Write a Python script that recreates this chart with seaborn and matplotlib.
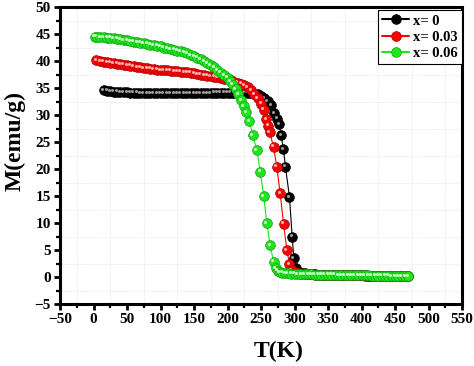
import numpy as np
import pandas as pd
import matplotlib
matplotlib.use("Agg")
import matplotlib.pyplot as plt
import matplotlib.transforms as mtransforms
from matplotlib.lines import Line2D
from matplotlib.ticker import MultipleLocator
import seaborn as sns

# ---------------- data ----------------
T_x0 = [15, 20, 25, 30, 35, 40, 45, 50, 55, 60,
        65, 70, 75, 80, 85, 90, 95, 100, 105, 110,
        115, 120, 125, 130, 135, 140, 145, 150, 155, 160,
        165, 170, 175, 180, 185, 190, 195, 200, 205, 210,
        215, 220, 225, 230, 235, 240, 245, 250, 255, 260,
        265, 270, 274, 277, 280, 283.5, 286.5, 292.5, 296.5, 299,
        302, 306, 311, 316, 321, 326, 331, 336, 341, 346,
        351, 356, 361, 366, 371, 376, 381, 386, 391, 396,
        401, 406, 411, 416, 421, 426, 431, 436, 441, 446,
        451, 456, 461, 466, 470]
M_x0 = [34.6, 34.5, 34.4, 34.3, 34.3, 34.2, 34.2, 34.2, 34.1, 34.1,
        34.1, 34.0, 34.0, 34.0, 34.0, 34.0, 34.0, 34.0, 34.0, 34.0,
        34.0, 34.0, 34.0, 34.0, 34.0, 34.0, 34.0, 34.0, 34.0, 34.0,
        34.0, 34.0, 34.0, 34.1, 34.1, 34.1, 34.1, 34.1, 34.1, 34.1,
        34.1, 34.1, 34.1, 34.1, 34.0, 33.9, 33.8, 33.5, 33.1, 32.6,
        31.8, 30.3, 29.3, 28.3, 26.3, 23.7, 20.4, 14.8, 7.5, 3.5,
        1.6, 1.0, 0.8, 0.7, 0.6, 0.55, 0.5, 0.45, 0.45, 0.4,
        0.4, 0.4, 0.35, 0.35, 0.35, 0.35, 0.3, 0.3, 0.3, 0.3,
        0.3, 0.3, 0.25, 0.25, 0.25, 0.25, 0.25, 0.25, 0.2, 0.2,
        0.2, 0.2, 0.2, 0.2, 0.2]

T_x003 = [4, 10, 15, 20, 25, 30, 35, 40, 45, 50,
          55, 60, 65, 70, 75, 80, 85, 90, 95, 100,
          105, 110, 115, 120, 125, 130, 135, 140, 145, 150,
          155, 160, 165, 170, 175, 180, 185, 190, 195, 200,
          205, 210, 215, 220, 225, 230, 235, 240, 245, 250,
          254, 257.7, 260.5, 263, 268.7, 273.6, 278.6, 283.6, 288.6, 292.5,
          296, 300, 305, 310, 315, 320, 325, 330, 335, 340,
          345, 350, 355, 360, 365, 370, 375, 380, 385, 390,
          395, 400, 405, 410, 415, 420, 425, 430, 435, 440,
          445, 450, 455, 460, 465, 470]
M_x003 = [40.2, 40.0, 39.9, 39.8, 39.7, 39.6, 39.5, 39.4, 39.3, 39.2,
          39.1, 39.0, 38.9, 38.8, 38.7, 38.65, 38.6, 38.5, 38.4, 38.35,
          38.3, 38.25, 38.2, 38.15, 38.1, 38.0, 37.95, 37.9, 37.8, 37.7,
          37.6, 37.5, 37.4, 37.3, 37.2, 37.1, 37.0, 36.9, 36.7, 36.6,
          36.4, 36.2, 36.0, 35.8, 35.5, 35.1, 34.6, 33.9, 33.1, 32.1,
          31.0, 29.2, 28.0, 26.8, 24.1, 20.4, 15.5, 9.9, 5.0, 2.4,
          1.3, 0.9, 0.7, 0.6, 0.55, 0.5, 0.5, 0.45, 0.45, 0.4,
          0.4, 0.4, 0.35, 0.35, 0.35, 0.35, 0.3, 0.3, 0.3, 0.3,
          0.3, 0.3, 0.25, 0.25, 0.25, 0.25, 0.25, 0.25, 0.2, 0.2,
          0.2, 0.2, 0.2, 0.2, 0.2, 0.2]

T_x006 = [1.5, 5, 10, 15, 20, 25, 30, 35, 40, 45,
          50, 55, 60, 65, 70, 75, 80, 85, 90, 95,
          100, 105, 110, 115, 120, 125, 130, 135, 140, 145,
          150, 155, 160, 165, 170, 175, 180, 185, 190, 195,
          200, 204, 208, 212, 216, 220, 224, 228, 232.8, 237.8,
          243.8, 248.8, 254, 258.7, 263.7, 268.7, 272, 275, 278, 282,
          286, 290, 295, 300, 305, 310, 315, 320, 325, 330,
          335, 340, 345, 350, 355, 360, 365, 370, 375, 380,
          385, 390, 395, 400, 405, 410, 415, 420, 425, 430,
          435, 440, 445, 450, 455, 460, 465, 470]
M_x006 = [44.5, 44.5, 44.4, 44.4, 44.3, 44.3, 44.2, 44.1, 44.0, 43.9,
          43.8, 43.7, 43.6, 43.5, 43.4, 43.3, 43.2, 43.0, 42.9, 42.8,
          42.7, 42.5, 42.4, 42.2, 42.1, 41.9, 41.8, 41.6, 41.4, 41.1,
          40.9, 40.6, 40.3, 40.0, 39.6, 39.2, 38.8, 38.3, 37.8, 37.4,
          36.9, 36.3, 35.6, 34.8, 33.8, 32.7, 31.6, 30.5, 28.8, 26.3,
          23.5, 19.5, 15.0, 10.0, 5.9, 2.8, 1.6, 1.2, 0.9, 0.8,
          0.7, 0.65, 0.6, 0.6, 0.55, 0.55, 0.5, 0.5, 0.5, 0.45,
          0.45, 0.45, 0.4, 0.4, 0.4, 0.4, 0.35, 0.35, 0.35, 0.35,
          0.3, 0.3, 0.3, 0.3, 0.3, 0.3, 0.25, 0.25, 0.25, 0.25,
          0.25, 0.25, 0.2, 0.2, 0.2, 0.2, 0.2, 0.2]

labels = ["x= 0", "x= 0.03", "x= 0.06"]
colors = ["#000000", "#ff0000", "#1ee61e"]
edge_colors = ["#000000", "#a00000", "#10a010"]
high_colors = ["#9a9a9a", "#ffb0b0", "#c8ffc8"]

df = pd.concat([
    pd.DataFrame({"T": T_x0, "M": M_x0, "s": labels[0]}),
    pd.DataFrame({"T": T_x003, "M": M_x003, "s": labels[1]}),
    pd.DataFrame({"T": T_x006, "M": M_x006, "s": labels[2]}),
], ignore_index=True)

# ---------------- style ----------------
sns.set_theme(style="white")
plt.rcParams["font.family"] = ["Liberation Serif", "DejaVu Serif"]
plt.rcParams["font.weight"] = "bold"
plt.rcParams["text.color"] = "black"
plt.rcParams["axes.labelcolor"] = "black"
plt.rcParams["xtick.color"] = "black"
plt.rcParams["ytick.color"] = "black"

fig = plt.figure(figsize=(4.74, 3.66), dpi=100)
ax = fig.add_axes([60 / 474, 62 / 366, 402 / 474, 297 / 366])

hl_trans = mtransforms.offset_copy(ax.transData, fig=fig, x=-1.0, y=1.0, units="points")

for i, lab in enumerate(labels):
    sub = df[df["s"] == lab]
    sns.lineplot(data=sub, x="T", y="M", ax=ax, color=colors[i], lw=0.8,
                 marker="o", markersize=7.0, markerfacecolor=colors[i],
                 markeredgecolor=edge_colors[i], markeredgewidth=0.5,
                 sort=False, estimator=None, legend=False, zorder=3 + i)
    ax.plot(sub["T"], sub["M"], ls="none", marker="o", markersize=2.2,
            color=high_colors[i], markeredgewidth=0, transform=hl_trans,
            zorder=3 + i)

ax.set_xlim(-50, 550)
ax.set_ylim(-5, 50)
ax.xaxis.set_major_locator(MultipleLocator(50))
ax.xaxis.set_minor_locator(MultipleLocator(25))
ax.yaxis.set_major_locator(MultipleLocator(5))
ax.yaxis.set_minor_locator(MultipleLocator(2.5))

ax.grid(False)
ax.grid(which="minor", color="#e4e4e4", lw=0.6, ls=(0, (1, 1)))
ax.set_axisbelow(True)

for sp in ax.spines.values():
    sp.set_visible(True)
    sp.set_color("black")
    sp.set_linewidth(2.2)

ax.tick_params(which="major", direction="out", length=4.5, width=2.0,
               labelsize=11, pad=2, colors="black", labelcolor="black",
               bottom=True, left=True, top=False, right=False)
ax.tick_params(which="minor", direction="out", length=3, width=1.6,
               bottom=True, left=True, top=False, right=False)
for t in ax.get_xticklabels() + ax.get_yticklabels():
    t.set_fontweight("bold")

ax.set_xlabel("T(K)", fontsize=17, fontweight="bold", color="black")
ax.set_ylabel("M(emu/g)", fontsize=17, fontweight="bold", color="black")
ax.xaxis.set_label_coords(0.545, -0.125)
ax.yaxis.set_label_coords(-0.085, 0.55)

handles = [Line2D([0], [0], color=colors[i], lw=1.5, marker="o", markersize=7,
                  markerfacecolor=colors[i], markeredgecolor=edge_colors[i],
                  markeredgewidth=0.5) for i in range(3)]
leg = ax.legend(handles, labels, loc="upper right",
                bbox_to_anchor=(1.0, 1.0 - 3 / 297), borderaxespad=0,
                frameon=True, fancybox=False, edgecolor="black",
                framealpha=1, handlelength=1.8, handletextpad=0.3,
                borderpad=0.3, labelspacing=0.2,
                prop={"family": ["Liberation Serif"], "weight": "bold", "size": 10.5})
leg.get_frame().set_linewidth(0.8)
for t in leg.get_texts():
    t.set_color("black")

fig.savefig("out.png", dpi=100)
